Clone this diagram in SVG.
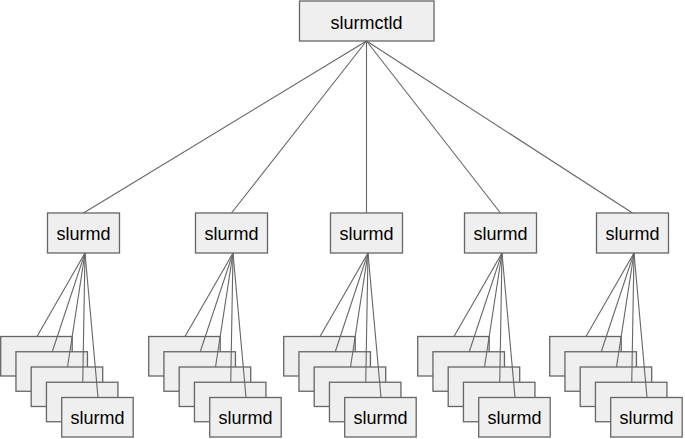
<svg xmlns="http://www.w3.org/2000/svg" width="685" height="439" viewBox="0 0 685 439">
<style>
.box{fill:#efefef;stroke:#666;stroke-width:1.3}
.lbl{font-family:"Liberation Sans",Arial,sans-serif;font-size:18px;fill:#000;text-anchor:middle}
.ln{stroke:#666;stroke-width:1.1;fill:none}
</style>
<defs>
<g id="stack">
<rect class="box" x="0.7" y="336.5" width="71.5" height="39.5"/>
<rect class="box" x="15.95" y="351.75" width="71.5" height="39.5"/>
<rect class="box" x="31.2" y="367" width="71.5" height="39.5"/>
<rect class="box" x="46.45" y="382.25" width="71.5" height="39.5"/>
<rect class="box" x="61.7" y="397.5" width="71.5" height="39.5"/>
<text class="lbl" x="97.5" y="423.5">slurmd</text>
</g>
<g id="fan">
<line class="ln" x1="0" y1="0" x2="-48" y2="83.5"/>
<line class="ln" x1="0" y1="0" x2="-32.75" y2="98.75"/>
<line class="ln" x1="0" y1="0" x2="-17.5" y2="114"/>
<line class="ln" x1="0" y1="0" x2="-2.25" y2="129.25"/>
<line class="ln" x1="0" y1="0" x2="13" y2="144.5"/>
</g>
</defs>
<g id="slurmctld">
<rect class="box" x="299.5" y="1" width="134.5" height="40"/>
<text class="lbl" x="366.5" y="28.5">slurmctld</text>
</g>
<g id="slurmd1"><rect class="box" x="47.5" y="213" width="72" height="40"/><text class="lbl" x="83.5" y="239.5">slurmd</text></g>
<g id="slurmd2"><rect class="box" x="195.5" y="213" width="72" height="40"/><text class="lbl" x="231.5" y="239.5">slurmd</text></g>
<g id="slurmd3"><rect class="box" x="330.5" y="213" width="72" height="40"/><text class="lbl" x="366.5" y="239.5">slurmd</text></g>
<g id="slurmd4"><rect class="box" x="464.5" y="213" width="72" height="40"/><text class="lbl" x="500.5" y="239.5">slurmd</text></g>
<g id="slurmd5"><rect class="box" x="596.5" y="213" width="72" height="40"/><text class="lbl" x="632.5" y="239.5">slurmd</text></g>
<g id="stack1"><use href="#stack" x="0"/></g>
<g id="stack2"><use href="#stack" x="148"/></g>
<g id="stack3"><use href="#stack" x="283"/></g>
<g id="stack4"><use href="#stack" x="417"/></g>
<g id="stack5"><use href="#stack" x="549"/></g>
<g id="connectors">
<line class="ln" x1="366.5" y1="41" x2="83.5" y2="213"/>
<line class="ln" x1="366.5" y1="41" x2="231.5" y2="213"/>
<line class="ln" x1="366.5" y1="41" x2="366.5" y2="213"/>
<line class="ln" x1="366.5" y1="41" x2="500.5" y2="213"/>
<line class="ln" x1="366.5" y1="41" x2="632.5" y2="213"/>
<use href="#fan" transform="translate(85,253)"/>
<use href="#fan" transform="translate(233,253)"/>
<use href="#fan" transform="translate(368,253)"/>
<use href="#fan" transform="translate(502,253)"/>
<use href="#fan" transform="translate(634,253)"/>
</g>
</svg>
